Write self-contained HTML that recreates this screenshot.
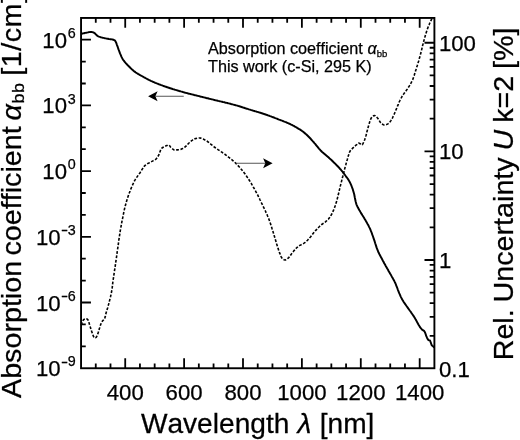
<!DOCTYPE html>
<html><head><meta charset="utf-8"><title>Absorption coefficient of c-Si</title>
<style>
html,body{margin:0;padding:0;background:#fff;}
svg{display:block}
text{font-kerning:none;stroke:#000;stroke-width:0.25px;font-family:"Liberation Sans",Arial,Helvetica,sans-serif;fill:#000;}
.t{font-size:22.2px}
.a{font-size:27.3px}
.l{font-size:16.2px}
.v{font-size:27.6px;word-spacing:-2.5px}
.i{font-style:italic}
</style></head><body>
<svg width="520" height="440" viewBox="0 0 520 440">
<rect width="520" height="440" fill="#fff"/>
<path d="M81.2,325.0 L82.0,323.0 L82.8,320.9 L83.5,319.9 L84.3,319.3 L85.0,319.0 L85.8,318.8 L86.5,318.8 L87.3,319.2 L88.0,320.0 L88.8,321.8 L89.5,324.6 L90.3,327.1 L91.0,329.5 L91.8,331.8 L92.5,333.8 L93.3,335.9 L94.0,337.5 L94.8,337.8 L95.5,337.8 L96.3,337.2 L97.0,336.0 L97.8,334.1 L98.5,331.7 L99.3,329.1 L100.0,326.6 L100.8,324.2 L101.5,322.4 L102.3,321.2 L103.0,320.4 L103.8,319.9 L104.5,319.2 L105.3,316.6 L106.0,313.3 L106.8,310.6 L107.6,308.0 L108.3,305.4 L109.1,302.6 L109.8,299.6 L110.6,296.4 L111.3,293.1 L112.1,288.9 L112.8,282.4 L113.6,277.0 L114.3,272.1 L115.1,267.0 L115.8,261.8 L116.6,256.5 L117.3,251.2 L118.1,245.9 L118.8,240.4 L119.6,235.2 L120.3,230.5 L121.1,226.2 L121.8,222.2 L122.6,218.3 L123.3,214.6 L124.1,211.0 L124.8,207.6 L125.6,204.7 L126.3,202.0 L127.1,199.5 L127.8,197.2 L128.6,195.0 L129.3,193.0 L130.1,191.0 L130.8,189.1 L131.6,187.2 L132.4,185.4 L133.1,183.8 L133.9,182.2 L134.6,180.7 L135.4,179.4 L136.1,178.2 L136.9,177.1 L137.6,176.1 L138.4,175.0 L139.1,174.0 L139.9,173.0 L140.6,171.9 L141.4,170.6 L142.1,169.4 L142.9,168.2 L143.6,167.1 L144.4,166.1 L145.1,165.4 L145.9,164.8 L146.6,164.3 L147.4,163.8 L148.1,163.4 L148.9,163.0 L149.6,162.6 L150.4,162.2 L151.1,161.8 L151.9,161.4 L152.6,161.0 L153.4,160.6 L154.1,160.2 L154.9,159.8 L155.6,159.3 L156.4,158.6 L157.2,157.7 L157.9,156.5 L158.7,155.2 L159.4,153.4 L160.2,151.2 L160.9,149.3 L161.7,148.3 L162.4,147.7 L163.2,147.2 L163.9,146.8 L164.7,146.4 L165.4,146.1 L166.2,145.7 L166.9,145.4 L167.7,145.2 L168.4,145.0 L169.2,145.2 L169.9,146.1 L170.7,147.3 L171.4,148.1 L172.2,148.7 L172.9,149.2 L173.7,149.7 L174.4,149.9 L175.2,150.0 L175.9,150.0 L176.7,149.9 L177.4,149.9 L178.2,149.8 L178.9,149.7 L179.7,149.5 L180.4,149.4 L181.2,149.2 L182.0,148.8 L182.7,148.5 L183.5,148.0 L184.2,147.5 L185.0,147.0 L185.7,146.4 L186.5,145.7 L187.2,144.9 L188.0,144.0 L188.7,143.2 L189.5,142.5 L190.2,141.8 L191.0,141.2 L191.7,140.6 L192.5,140.1 L193.2,139.5 L194.0,139.1 L194.7,138.8 L195.5,138.6 L196.2,138.5 L197.0,138.3 L197.7,138.2 L198.5,138.1 L199.2,138.0 L200.0,138.0 L200.7,138.1 L201.5,138.3 L202.2,138.6 L203.0,138.9 L203.7,139.3 L204.5,139.7 L205.2,140.1 L206.0,140.6 L206.8,141.0 L207.5,141.5 L208.3,142.1 L209.0,142.7 L209.8,143.3 L210.5,143.9 L211.3,144.5 L212.0,145.1 L212.8,145.8 L213.5,146.4 L214.3,147.0 L215.0,147.5 L215.8,148.1 L216.5,148.6 L217.3,149.1 L218.0,149.6 L218.8,150.1 L219.5,150.6 L220.3,151.1 L221.0,151.6 L221.8,152.1 L222.5,152.7 L223.3,153.2 L224.0,153.7 L224.8,154.2 L225.5,154.8 L226.3,155.3 L227.0,155.9 L227.8,156.5 L228.5,157.1 L229.3,157.7 L230.0,158.3 L230.8,158.9 L231.5,159.5 L232.3,160.1 L233.1,160.8 L233.8,161.5 L234.6,162.1 L235.3,162.8 L236.1,163.6 L236.8,164.3 L237.6,165.1 L238.3,165.9 L239.1,166.7 L239.8,167.5 L240.6,168.4 L241.3,169.3 L242.1,170.2 L242.8,171.1 L243.6,172.1 L244.3,173.1 L245.1,174.1 L245.8,175.1 L246.6,176.2 L247.3,177.3 L248.1,178.4 L248.8,179.5 L249.6,180.7 L250.3,181.9 L251.1,183.1 L251.8,184.4 L252.6,185.7 L253.3,187.0 L254.1,188.4 L254.8,189.7 L255.6,191.1 L256.3,192.5 L257.1,194.0 L257.9,195.4 L258.6,196.9 L259.4,198.5 L260.1,200.0 L260.9,201.6 L261.6,203.1 L262.4,204.7 L263.1,206.3 L263.9,207.8 L264.6,209.4 L265.4,211.0 L266.1,212.6 L266.9,214.2 L267.6,216.0 L268.4,217.8 L269.1,219.7 L269.9,221.9 L270.6,224.1 L271.4,226.5 L272.1,228.8 L272.9,231.2 L273.6,233.7 L274.4,236.3 L275.1,238.8 L275.9,241.3 L276.6,243.8 L277.4,246.2 L278.1,248.6 L278.9,250.9 L279.6,252.9 L280.4,254.8 L281.1,256.6 L281.9,258.0 L282.7,258.9 L283.4,259.4 L284.2,259.8 L284.9,260.0 L285.7,259.9 L286.4,259.5 L287.2,258.9 L287.9,258.3 L288.7,257.6 L289.4,256.8 L290.2,255.8 L290.9,254.7 L291.7,253.6 L292.4,252.6 L293.2,251.7 L293.9,250.8 L294.7,249.9 L295.4,249.0 L296.2,248.2 L296.9,247.5 L297.7,246.9 L298.4,246.3 L299.2,245.8 L299.9,245.4 L300.7,245.0 L301.4,244.6 L302.2,244.2 L302.9,243.8 L303.7,243.4 L304.4,242.9 L305.2,242.3 L305.9,241.7 L306.7,241.0 L307.5,240.3 L308.2,239.5 L309.0,238.7 L309.7,237.8 L310.5,237.0 L311.2,236.1 L312.0,235.1 L312.7,234.1 L313.5,233.1 L314.2,232.2 L315.0,231.3 L315.7,230.4 L316.5,229.6 L317.2,228.8 L318.0,228.0 L318.7,227.2 L319.5,226.5 L320.2,225.8 L321.0,225.1 L321.7,224.5 L322.5,224.0 L323.2,223.4 L324.0,222.9 L324.7,222.4 L325.5,221.8 L326.2,221.2 L327.0,220.5 L327.7,219.8 L328.5,219.0 L329.2,218.1 L330.0,217.1 L330.7,215.8 L331.5,214.5 L332.3,213.0 L333.0,211.4 L333.8,209.6 L334.5,207.7 L335.3,205.6 L336.0,203.3 L336.8,200.8 L337.5,197.9 L338.3,194.8 L339.0,191.6 L339.8,188.4 L340.5,185.4 L341.3,182.4 L342.0,179.3 L342.8,176.3 L343.5,173.4 L344.3,170.5 L345.0,167.6 L345.8,164.8 L346.5,162.1 L347.3,159.5 L348.0,156.9 L348.8,154.4 L349.5,152.2 L350.3,150.8 L351.0,149.8 L351.8,149.1 L352.5,148.4 L353.3,147.7 L354.0,147.0 L354.8,146.3 L355.5,145.6 L356.3,145.0 L357.1,144.3 L357.8,143.6 L358.6,143.2 L359.3,143.3 L360.1,143.7 L360.8,144.2 L361.6,144.8 L362.3,144.7 L363.1,143.4 L363.8,141.9 L364.6,140.0 L365.3,137.8 L366.1,135.2 L366.8,132.3 L367.6,129.4 L368.3,126.7 L369.1,124.0 L369.8,121.5 L370.6,119.4 L371.3,118.0 L372.1,116.8 L372.8,116.2 L373.6,115.7 L374.3,115.5 L375.1,115.7 L375.8,116.3 L376.6,116.9 L377.3,117.8 L378.1,118.7 L378.8,119.8 L379.6,121.1 L380.3,122.3 L381.1,123.2 L381.8,123.8 L382.6,124.3 L383.4,124.7 L384.1,125.0 L384.9,125.0 L385.6,124.8 L386.4,124.6 L387.1,124.3 L387.9,123.9 L388.6,123.4 L389.4,122.6 L390.1,121.7 L390.9,120.6 L391.6,119.4 L392.4,118.1 L393.1,116.5 L393.9,114.9 L394.6,113.3 L395.4,111.5 L396.1,109.6 L396.9,107.8 L397.6,105.9 L398.4,104.1 L399.1,102.2 L399.9,100.5 L400.6,98.9 L401.4,97.6 L402.1,96.4 L402.9,95.2 L403.6,94.1 L404.4,93.1 L405.1,92.1 L405.9,91.1 L406.6,90.0 L407.4,88.9 L408.2,87.7 L408.9,86.6 L409.7,85.4 L410.4,84.1 L411.2,82.7 L411.9,81.3 L412.7,79.6 L413.4,77.7 L414.2,75.5 L414.9,73.1 L415.7,70.6 L416.4,68.2 L417.2,65.8 L417.9,63.4 L418.7,60.9 L419.4,58.3 L420.2,55.6 L420.9,52.7 L421.7,49.6 L422.4,46.4 L423.2,43.4 L423.9,40.6 L424.7,37.9 L425.4,35.2 L426.2,32.7 L426.9,30.4 L427.7,28.2 L428.4,26.3 L429.2,24.5 L429.9,22.8 L430.7,21.2 L431.4,19.6 L432.2,18.0" fill="none" stroke="#000" stroke-width="1.6" stroke-dasharray="2.8 1.6"/>
<path d="M81.0,33.9 L81.8,33.7 L82.5,33.5 L83.3,33.4 L84.0,33.2 L84.8,33.0 L85.5,32.9 L86.3,32.7 L87.0,32.6 L87.8,32.4 L88.5,32.2 L89.3,32.1 L90.0,32.0 L90.8,31.9 L91.5,31.9 L92.3,32.1 L93.0,32.3 L93.8,32.7 L94.5,33.1 L95.3,33.8 L96.0,34.6 L96.8,35.3 L97.5,35.9 L98.3,36.3 L99.0,36.6 L99.8,36.9 L100.5,37.2 L101.3,37.4 L102.0,37.6 L102.8,37.8 L103.5,37.9 L104.3,38.1 L105.0,38.3 L105.8,38.4 L106.5,38.6 L107.3,38.7 L108.0,38.8 L108.8,39.0 L109.5,39.1 L110.3,39.2 L111.0,39.3 L111.8,39.4 L112.5,39.5 L113.3,39.7 L114.0,40.0 L114.8,40.4 L115.5,41.3 L116.3,43.0 L117.0,45.1 L117.8,47.2 L118.5,49.4 L119.3,51.4 L120.0,53.4 L120.8,55.1 L121.5,56.9 L122.3,58.4 L123.0,59.6 L123.8,60.7 L124.5,61.6 L125.3,62.5 L126.0,63.4 L126.8,64.2 L127.5,65.0 L128.3,65.8 L129.0,66.5 L129.8,67.3 L130.5,68.0 L131.3,68.7 L132.0,69.4 L132.8,70.1 L133.5,70.8 L134.3,71.4 L135.0,71.9 L135.8,72.5 L136.5,73.0 L137.3,73.4 L138.0,73.9 L138.8,74.3 L139.5,74.8 L140.3,75.2 L141.0,75.6 L141.8,76.0 L142.5,76.4 L143.3,76.8 L144.0,77.3 L144.8,77.7 L145.5,78.1 L146.3,78.5 L147.0,78.9 L147.8,79.3 L148.5,79.7 L149.3,80.1 L150.0,80.4 L150.8,80.8 L151.5,81.1 L152.3,81.5 L153.1,81.8 L153.8,82.1 L154.6,82.5 L155.3,82.8 L156.1,83.1 L156.8,83.4 L157.6,83.7 L158.3,84.0 L159.1,84.3 L159.8,84.6 L160.6,84.8 L161.3,85.1 L162.1,85.4 L162.8,85.7 L163.6,86.0 L164.3,86.2 L165.1,86.5 L165.8,86.7 L166.6,87.0 L167.3,87.3 L168.1,87.5 L168.8,87.8 L169.6,88.0 L170.3,88.3 L171.1,88.5 L171.8,88.7 L172.6,89.0 L173.3,89.2 L174.1,89.4 L174.8,89.7 L175.6,89.9 L176.3,90.1 L177.1,90.3 L177.8,90.6 L178.6,90.8 L179.3,91.0 L180.1,91.2 L180.8,91.4 L181.6,91.6 L182.3,91.8 L183.1,92.1 L183.8,92.3 L184.6,92.5 L185.3,92.7 L186.1,92.9 L186.8,93.1 L187.6,93.3 L188.3,93.5 L189.1,93.7 L189.8,93.9 L190.6,94.0 L191.3,94.2 L192.1,94.4 L192.8,94.6 L193.6,94.8 L194.3,95.0 L195.1,95.2 L195.8,95.4 L196.6,95.5 L197.3,95.7 L198.1,95.9 L198.8,96.1 L199.6,96.3 L200.3,96.5 L201.1,96.7 L201.8,96.9 L202.6,97.0 L203.3,97.2 L204.1,97.4 L204.8,97.6 L205.6,97.8 L206.3,98.0 L207.1,98.2 L207.8,98.3 L208.6,98.5 L209.3,98.7 L210.1,98.9 L210.8,99.1 L211.6,99.3 L212.3,99.4 L213.1,99.6 L213.8,99.8 L214.6,100.0 L215.3,100.2 L216.1,100.4 L216.8,100.5 L217.6,100.7 L218.3,100.9 L219.1,101.1 L219.8,101.3 L220.6,101.4 L221.3,101.6 L222.1,101.8 L222.9,102.0 L223.6,102.1 L224.4,102.3 L225.1,102.5 L225.9,102.7 L226.6,102.9 L227.4,103.0 L228.1,103.2 L228.9,103.4 L229.6,103.6 L230.4,103.8 L231.1,104.0 L231.9,104.2 L232.6,104.4 L233.4,104.6 L234.1,104.8 L234.9,105.0 L235.6,105.2 L236.4,105.4 L237.1,105.6 L237.9,105.8 L238.6,106.1 L239.4,106.3 L240.1,106.5 L240.9,106.8 L241.6,107.0 L242.4,107.3 L243.1,107.5 L243.9,107.7 L244.6,108.0 L245.4,108.2 L246.1,108.5 L246.9,108.7 L247.6,108.9 L248.4,109.2 L249.1,109.4 L249.9,109.6 L250.6,109.9 L251.4,110.1 L252.1,110.3 L252.9,110.6 L253.6,110.8 L254.4,111.0 L255.1,111.2 L255.9,111.4 L256.6,111.7 L257.4,111.9 L258.1,112.1 L258.9,112.3 L259.6,112.6 L260.4,112.8 L261.1,113.0 L261.9,113.3 L262.6,113.5 L263.4,113.8 L264.1,114.0 L264.9,114.3 L265.6,114.5 L266.4,114.8 L267.1,115.0 L267.9,115.3 L268.6,115.6 L269.4,115.8 L270.1,116.1 L270.9,116.4 L271.6,116.7 L272.4,117.0 L273.1,117.2 L273.9,117.5 L274.6,117.8 L275.4,118.1 L276.1,118.4 L276.9,118.7 L277.6,119.0 L278.4,119.3 L279.1,119.6 L279.9,119.9 L280.6,120.2 L281.4,120.4 L282.1,120.7 L282.9,121.0 L283.6,121.3 L284.4,121.6 L285.1,121.9 L285.9,122.2 L286.6,122.5 L287.4,122.8 L288.1,123.2 L288.9,123.5 L289.6,123.8 L290.4,124.2 L291.1,124.6 L291.9,124.9 L292.6,125.3 L293.4,125.7 L294.2,126.1 L294.9,126.6 L295.7,127.0 L296.4,127.4 L297.2,127.9 L297.9,128.3 L298.7,128.8 L299.4,129.2 L300.2,129.7 L300.9,130.2 L301.7,130.7 L302.4,131.2 L303.2,131.8 L303.9,132.4 L304.7,133.0 L305.4,133.7 L306.2,134.3 L306.9,135.0 L307.7,135.8 L308.4,136.5 L309.2,137.3 L309.9,138.0 L310.7,138.8 L311.4,139.7 L312.2,140.5 L312.9,141.4 L313.7,142.2 L314.4,143.1 L315.2,143.9 L315.9,144.8 L316.7,145.8 L317.4,146.7 L318.2,147.7 L318.9,148.6 L319.7,149.4 L320.4,150.2 L321.2,151.0 L321.9,151.7 L322.7,152.4 L323.4,153.0 L324.2,153.7 L324.9,154.3 L325.7,155.0 L326.4,155.6 L327.2,156.2 L327.9,156.9 L328.7,157.5 L329.4,158.2 L330.2,158.9 L330.9,159.6 L331.7,160.3 L332.4,161.0 L333.2,161.8 L333.9,162.5 L334.7,163.2 L335.4,163.9 L336.2,164.7 L336.9,165.5 L337.7,166.2 L338.4,167.0 L339.2,167.8 L339.9,168.7 L340.7,169.5 L341.4,170.4 L342.2,171.3 L342.9,172.3 L343.7,173.2 L344.4,174.2 L345.2,175.3 L345.9,176.3 L346.7,177.3 L347.4,178.3 L348.2,179.4 L348.9,180.6 L349.7,181.9 L350.4,183.4 L351.2,185.1 L351.9,187.0 L352.7,189.1 L353.4,191.5 L354.2,194.3 L354.9,198.0 L355.7,201.7 L356.4,204.3 L357.2,206.1 L357.9,207.6 L358.7,209.0 L359.4,210.3 L360.2,211.6 L360.9,212.9 L361.7,214.1 L362.4,215.3 L363.2,216.5 L364.0,217.7 L364.7,219.0 L365.5,220.3 L366.2,221.6 L367.0,222.9 L367.7,224.2 L368.5,225.6 L369.2,227.1 L370.0,228.6 L370.7,230.4 L371.5,232.3 L372.2,234.4 L373.0,236.5 L373.7,238.6 L374.5,240.9 L375.2,243.2 L376.0,245.6 L376.7,247.9 L377.5,249.9 L378.2,251.7 L379.0,253.3 L379.7,254.8 L380.5,256.2 L381.2,257.6 L382.0,259.0 L382.7,260.4 L383.5,261.8 L384.2,263.2 L385.0,264.5 L385.7,265.9 L386.5,267.2 L387.2,268.5 L388.0,269.8 L388.7,271.2 L389.5,272.5 L390.2,273.8 L391.0,275.1 L391.7,276.4 L392.5,277.7 L393.2,279.0 L394.0,280.4 L394.7,281.9 L395.5,283.5 L396.2,285.4 L397.0,287.3 L397.7,289.3 L398.5,291.3 L399.2,293.2 L400.0,294.9 L400.7,296.6 L401.5,298.1 L402.2,299.5 L403.0,300.8 L403.7,302.0 L404.5,303.1 L405.2,304.1 L406.0,305.2 L406.7,306.3 L407.5,307.4 L408.2,308.4 L409.0,309.5 L409.7,310.5 L410.5,311.5 L411.2,312.6 L412.0,313.7 L412.7,314.7 L413.5,315.9 L414.2,317.0 L415.0,318.3 L415.7,319.6 L416.5,320.9 L417.2,322.3 L418.0,323.7 L418.7,325.0 L419.5,326.2 L420.2,327.4 L421.0,328.4 L421.7,329.2 L422.5,329.9 L423.2,330.3 L424.0,330.8 L424.7,331.8 L425.5,333.7 L426.2,335.9 L427.0,337.7 L427.7,339.1 L428.5,340.1 L429.2,340.4 L430.0,340.5 L430.7,342.3 L431.5,344.8 L432.2,345.7 L433.0,346.3 L433.7,346.9 L434.5,347.5" fill="none" stroke="#000" stroke-width="1.95" stroke-linejoin="round"/>
<path d="M95.77,368.25 v-4.7 M95.77,17.95 v4.7 M110.50,368.25 v-4.7 M110.50,17.95 v4.7 M125.22,368.25 v-9.9 M125.22,17.95 v9.9 M139.94,368.25 v-4.7 M139.94,17.95 v4.7 M154.66,368.25 v-4.7 M154.66,17.95 v4.7 M169.39,368.25 v-4.7 M169.39,17.95 v4.7 M184.11,368.25 v-9.9 M184.11,17.95 v9.9 M198.83,368.25 v-4.7 M198.83,17.95 v4.7 M213.56,368.25 v-4.7 M213.56,17.95 v4.7 M228.28,368.25 v-4.7 M228.28,17.95 v4.7 M243.00,368.25 v-9.9 M243.00,17.95 v9.9 M257.72,368.25 v-4.7 M257.72,17.95 v4.7 M272.45,368.25 v-4.7 M272.45,17.95 v4.7 M287.17,368.25 v-4.7 M287.17,17.95 v4.7 M301.89,368.25 v-9.9 M301.89,17.95 v9.9 M316.62,368.25 v-4.7 M316.62,17.95 v4.7 M331.34,368.25 v-4.7 M331.34,17.95 v4.7 M346.06,368.25 v-4.7 M346.06,17.95 v4.7 M360.79,368.25 v-9.9 M360.79,17.95 v9.9 M375.51,368.25 v-4.7 M375.51,17.95 v4.7 M390.23,368.25 v-4.7 M390.23,17.95 v4.7 M404.95,368.25 v-4.7 M404.95,17.95 v4.7 M419.68,368.25 v-9.9 M419.68,17.95 v9.9 M81.05,346.30 h4.7 M81.05,324.40 h4.7 M81.05,302.50 h9.9 M81.05,280.60 h4.7 M81.05,258.70 h4.7 M81.05,236.80 h9.9 M81.05,214.90 h4.7 M81.05,193.00 h4.7 M81.05,171.10 h9.9 M81.05,149.20 h4.7 M81.05,127.30 h4.7 M81.05,105.40 h9.9 M81.05,83.50 h4.7 M81.05,61.60 h4.7 M81.05,39.70 h9.9 M434.4,335.92 h-4.7 M434.4,316.80 h-4.7 M434.4,303.22 h-4.7 M434.4,292.70 h-4.7 M434.4,284.10 h-4.7 M434.4,276.83 h-4.7 M434.4,270.53 h-4.7 M434.4,264.97 h-4.7 M434.4,260.00 h-9.9 M434.4,227.30 h-4.7 M434.4,208.18 h-4.7 M434.4,194.60 h-4.7 M434.4,184.08 h-4.7 M434.4,175.48 h-4.7 M434.4,168.21 h-4.7 M434.4,161.91 h-4.7 M434.4,156.35 h-4.7 M434.4,151.38 h-9.9 M434.4,118.68 h-4.7 M434.4,99.56 h-4.7 M434.4,85.98 h-4.7 M434.4,75.46 h-4.7 M434.4,66.86 h-4.7 M434.4,59.59 h-4.7 M434.4,53.29 h-4.7 M434.4,47.73 h-4.7 M434.4,42.76 h-9.9" fill="none" stroke="#000" stroke-width="1.8"/>
<rect x="81.05" y="17.95" width="353.35" height="350.3" fill="none" stroke="#000" stroke-width="1.9"/>
<g stroke="#555" stroke-width="1" fill="none">
<path d="M155.5,96.25 H183.75"/>
<path d="M236.25,163.25 H265"/>
</g>
<path d="M148.1,96.25 L157.6,91.2 L155.4,96.25 L157.6,101.3 Z" fill="#000"/>
<path d="M272.6,163.25 L263.1,158.2 L265.3,163.25 L263.1,168.3 Z" fill="#000"/>

<text class="t" transform="translate(125.22,400.00) scale(1,1.0)" text-anchor="middle">400</text>
<text class="t" transform="translate(184.11,400.00) scale(1,1.0)" text-anchor="middle">600</text>
<text class="t" transform="translate(243.00,400.00) scale(1,1.0)" text-anchor="middle">800</text>
<text class="t" transform="translate(301.89,400.00) scale(1,1.0)" text-anchor="middle">1000</text>
<text class="t" transform="translate(360.79,400.00) scale(1,1.0)" text-anchor="middle">1200</text>
<text class="t" transform="translate(419.68,400.00) scale(1,1.0)" text-anchor="middle">1400</text>
<text class="t" transform="translate(75.80,47.70) scale(1,1.0)" text-anchor="end">10<tspan font-size="14.3" dy="-9.8" dx="0.8">6</tspan></text>
<text class="t" transform="translate(75.80,113.40) scale(1,1.0)" text-anchor="end">10<tspan font-size="14.3" dy="-9.8" dx="0.8">3</tspan></text>
<text class="t" transform="translate(75.80,179.10) scale(1,1.0)" text-anchor="end">10<tspan font-size="14.3" dy="-9.8" dx="0.8">0</tspan></text>
<text class="t" transform="translate(75.80,244.80) scale(1,1.0)" text-anchor="end">10<tspan font-size="10.5" font-weight="bold" dy="-10.700000000000001" dx="0.6">−</tspan><tspan font-size="14.3" dy="0.9" dx="0.5">3</tspan></text>
<text class="t" transform="translate(75.80,310.50) scale(1,1.0)" text-anchor="end">10<tspan font-size="10.5" font-weight="bold" dy="-10.700000000000001" dx="0.6">−</tspan><tspan font-size="14.3" dy="0.9" dx="0.5">6</tspan></text>
<text class="t" transform="translate(75.80,376.20) scale(1,1.0)" text-anchor="end">10<tspan font-size="10.5" font-weight="bold" dy="-10.700000000000001" dx="0.6">−</tspan><tspan font-size="14.3" dy="0.9" dx="0.5">9</tspan></text>
<text class="t" transform="translate(438.90,376.72) scale(1,1.0)">0.1</text>
<text class="t" transform="translate(438.90,268.10) scale(1,1.0)">1</text>
<text class="t" transform="translate(438.90,159.48) scale(1,1.0)">10</text>
<text class="t" transform="translate(438.90,50.86) scale(1,1.0)">100</text>
<text class="l" transform="translate(208.00,54.00) scale(1,1.0)">Absorption coefficient <tspan class="i" dx="0.2">α</tspan><tspan font-size="9.5" dy="2.5" dx="0">bb</tspan></text>
<text class="l" transform="translate(208.00,72.00) scale(1,1.0)">This work (c-Si, 295 K)</text>
<text class="a" transform="translate(140.9,433.2) scale(1.03,1)">Wavelength <tspan class="i" dx="0.4">λ</tspan><tspan dx="0.5"> [nm]</tspan></text>
<text class="v" transform="translate(20.60,398.00) rotate(-90) scale(1.04,1)">Absorption coefficient <tspan class="i" dx="0.5">α</tspan><tspan font-size="17.3" dy="3.8" dx="0.5" letter-spacing="0.4">bb</tspan><tspan dy="-3.8" dx="1" letter-spacing="0.5"> [1/cm]</tspan></text>
<text class="v" transform="translate(513.20,360.30) rotate(-90) scale(1.04,1)" style="word-spacing:-1.05px">Rel. Uncertainty <tspan class="i">U</tspan> k=2 [%]</text>
</svg></body></html>
